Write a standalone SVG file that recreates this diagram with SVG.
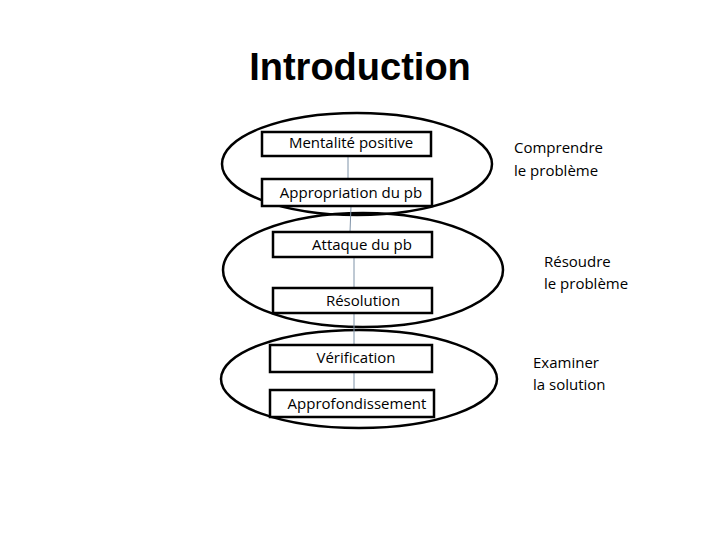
<svg xmlns="http://www.w3.org/2000/svg" width="720" height="540" viewBox="0 0 720 540">
<style>
text{font-family:"Open Sans","DejaVu Sans",sans-serif;font-size:15px;fill:#000}
.b{fill:#fff;stroke:#000;stroke-width:2.5}
.e{fill:none;stroke:#000;stroke-width:2.5}
.c{stroke:#7f93a8;stroke-width:1}
</style>
<rect width="720" height="540" fill="#fff"/>
<text x="360" y="80" text-anchor="middle" style="font-family:'Liberation Sans',sans-serif;font-size:38px;font-weight:bold">Introduction</text>
<g id="ellipses">
<ellipse class="e" cx="357" cy="164" rx="135" ry="51"/>
<ellipse class="e" cx="363" cy="270" rx="140" ry="57"/>
<ellipse class="e" cx="359" cy="379" rx="138" ry="49"/>
</g>
<g id="connectors">
<line class="c" x1="348" y1="156" x2="348" y2="178"/>
<line class="c" x1="351" y1="206" x2="350" y2="232"/>
<line class="c" x1="354" y1="257" x2="354" y2="288"/>
<line class="c" x1="354" y1="313" x2="354" y2="345"/>
<line class="c" x1="354" y1="372" x2="354" y2="390"/>
</g>
<g id="n1"><rect class="b" x="262" y="132" width="169" height="24"/><text x="351" y="148" text-anchor="middle">Mentalité positive</text></g>
<g id="n2"><rect class="b" x="262" y="179" width="170" height="27"/><text x="351" y="198" text-anchor="middle">Appropriation du pb</text></g>
<g id="n3"><rect class="b" x="273" y="232" width="159" height="25"/><text x="362" y="250" text-anchor="middle">Attaque du pb</text></g>
<g id="n4"><rect class="b" x="273" y="288" width="159" height="25"/><text x="363" y="306" text-anchor="middle">Résolution</text></g>
<g id="n5"><rect class="b" x="270" y="345" width="162" height="27"/><text x="356" y="363" text-anchor="middle">Vérification</text></g>
<g id="n6"><rect class="b" x="270" y="390" width="164" height="27"/><text x="357" y="409" text-anchor="middle">Approfondissement</text></g>
<g id="labels">
<text x="514" y="153">Comprendre</text><text x="514" y="176">le problème</text>
<text x="544" y="267">Résoudre</text><text x="544" y="289">le problème</text>
<text x="533" y="368">Examiner</text><text x="533" y="390">la solution</text>
</g>
</svg>
